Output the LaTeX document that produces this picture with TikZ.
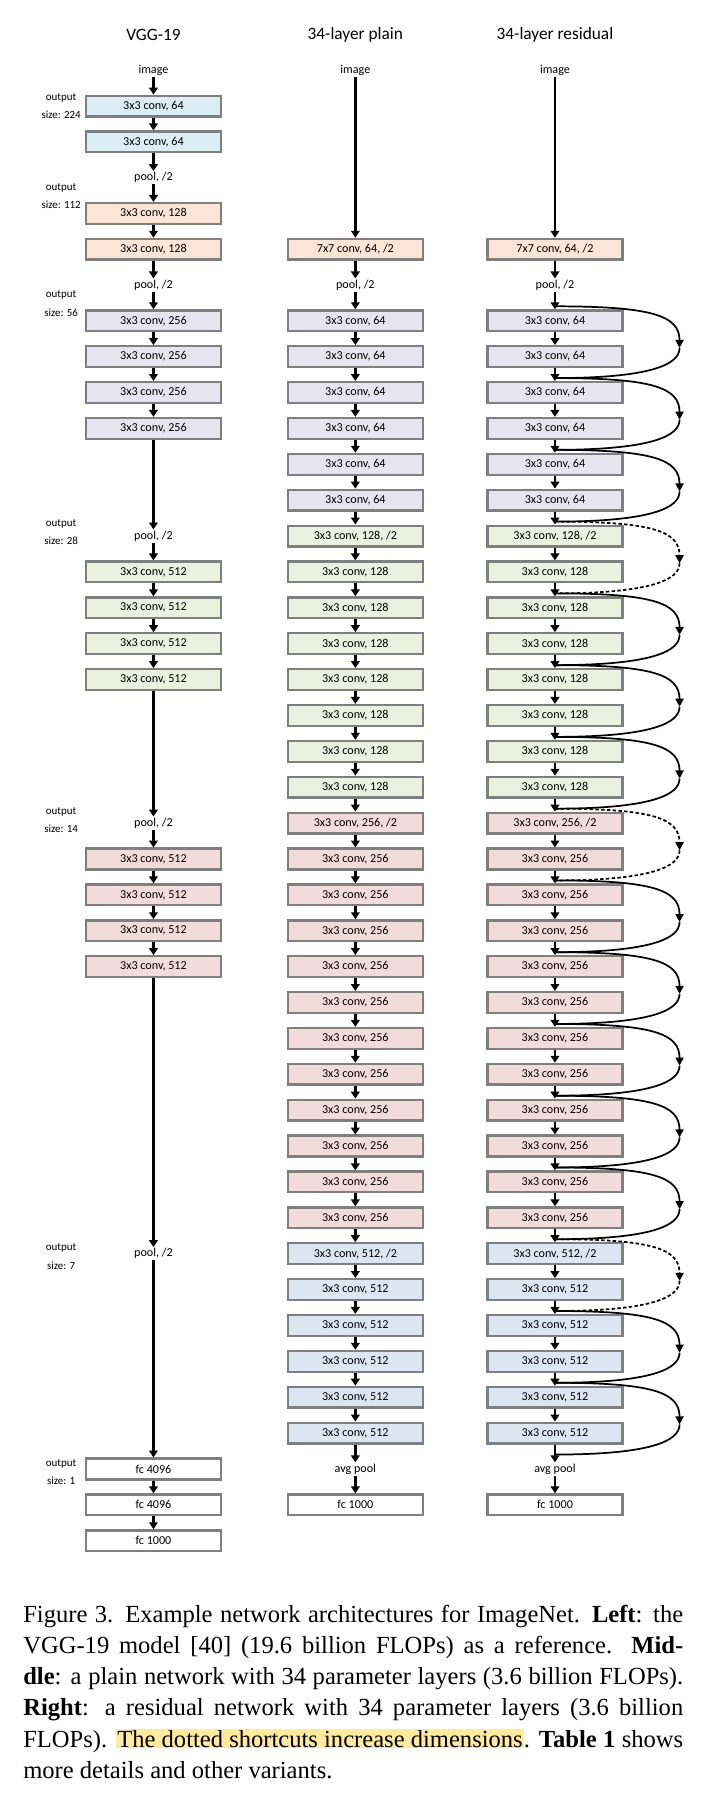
\documentclass[tikz,border=0pt]{standalone}
\usepackage{fontspec}
\setmainfont{Liberation Serif}
\newfontfamily\carl{Carlito}
\usetikzlibrary{arrows.meta}
\definecolor{cblue}{HTML}{DAEEF3}
\definecolor{cpeach}{HTML}{FCE4D6}
\definecolor{clav}{HTML}{E6E4EE}
\definecolor{cgreen}{HTML}{EBF1DE}
\definecolor{cpink}{HTML}{F2DCDB}
\definecolor{cblu}{HTML}{DCE6F2}
\definecolor{cgrey}{HTML}{7F7F7F}
\definecolor{hlc}{HTML}{FFEB99}
\begin{document}
\begin{tikzpicture}[x=1pt,y=-1pt,
  box/.style={draw=cgrey,line width=2pt,minimum width=117pt,minimum height=18pt,inner sep=0pt,font=\carl\fontsize{10.5}{12}\selectfont},
  lbl/.style={inner sep=1pt,font=\carl\fontsize{10.5}{12}\selectfont},
  outl/.style={align=center,font=\carl\fontsize{9.5}{16}\selectfont},
  ttl/.style={font=\carl\fontsize{15}{18}\selectfont},
  arr/.style={line width=2.2pt,-{Triangle[length=6pt,width=7.5pt]}},
  sc/.style={line width=1.5pt},
  sca/.style={line width=1.5pt,-{Triangle[length=7pt,width=7pt]}},
  dot/.style={dash pattern=on 3pt off 2pt}]
\useasboundingbox (0,0) rectangle (612,1574);
\def\Y#1{278+31.1*(#1)}
% titles
\node[ttl] at (133,30) {VGG-19};
\node[ttl] at (308,30) {34-layer plain};
\node[ttl] at (481,30) {34-layer residual};
% output labels
\node[outl] at (53,92) {output\\size: 224};
\node[outl] at (53,170) {output\\size: 112};
\node[outl] at (53,263) {output\\size: 56};
\node[outl] at (53,461) {output\\size: 28};
\node[outl] at (53,711) {output\\size: 14};
\node[outl] at (53,1089) {output\\size: 7};
\node[outl] at (53,1276) {output\\size: 1};
% ---------- VGG ----------
\node[lbl] (vim) at (133,61) {image};
\node[box,fill=cblue] (v1) at (133,92) {3x3 conv, 64};
\node[box,fill=cblue] (v2) at (133,123) {3x3 conv, 64};
\node[lbl] (vp1) at (133,154) {pool, /2};
\node[box,fill=cpeach] (v3) at (133,185) {3x3 conv, 128};
\node[box,fill=cpeach] (v4) at (133,216) {3x3 conv, 128};
\node[lbl] (vp2) at (133,247) {pool, /2};
\foreach \i/\k in {5/0,6/1,7/2,8/3} \node[box,fill=clav] (v\i) at (133,{\Y{\k}}) {3x3 conv, 256};
\node[lbl] (vp3) at (133,{\Y{6}}) {pool, /2};
\foreach \i/\k in {9/7,10/8,11/9,12/10} \node[box,fill=cgreen] (v\i) at (133,{\Y{\k}}) {3x3 conv, 512};
\node[lbl] (vp4) at (133,{\Y{14}}) {pool, /2};
\foreach \i/\k in {13/15,14/16,15/17,16/18} \node[box,fill=cpink] (v\i) at (133,{\Y{\k}}) {3x3 conv, 512};
\node[lbl] (vp5) at (133,{\Y{26}}) {pool, /2};
\node[box,fill=white] (vf1) at (133,{\Y{32}}) {fc 4096};
\node[box,fill=white] (vf2) at (133,{\Y{33}}) {fc 4096};
\node[box,fill=white] (vf3) at (133,{\Y{34}}) {fc 1000};
\foreach \a/\b in {vim/v1,v1/v2,v2/vp1,vp1/v3,v3/v4,v4/vp2,vp2/v5,v5/v6,v6/v7,v7/v8,v8/vp3,vp3/v9,v9/v10,v10/v11,v11/v12,v12/vp4,vp4/v13,v13/v14,v14/v15,v15/v16,v16/vp5,vp5/vf1,vf1/vf2,vf2/vf3}
  \draw[arr] (\a) -- (\b);
% ---------- plain & residual ----------
\foreach \c/\x in {P/308,R/481}{
  \node[lbl] (\c im) at (\x,61) {image};
  \node[box,fill=cpeach] (\c c7) at (\x,216) {7x7 conv, 64, /2};
  \node[lbl] (\c pool) at (\x,247) {pool, /2};
  \foreach \k in {0,...,5} \node[box,fill=clav] (\c\k) at (\x,{\Y{\k}}) {3x3 conv, 64};
  \node[box,fill=cgreen] (\c6) at (\x,{\Y{6}}) {3x3 conv, 128, /2};
  \foreach \k in {7,...,13} \node[box,fill=cgreen] (\c\k) at (\x,{\Y{\k}}) {3x3 conv, 128};
  \node[box,fill=cpink] (\c14) at (\x,{\Y{14}}) {3x3 conv, 256, /2};
  \foreach \k in {15,...,25} \node[box,fill=cpink] (\c\k) at (\x,{\Y{\k}}) {3x3 conv, 256};
  \node[box,fill=cblu] (\c26) at (\x,{\Y{26}}) {3x3 conv, 512, /2};
  \foreach \k in {27,...,31} \node[box,fill=cblu] (\c\k) at (\x,{\Y{\k}}) {3x3 conv, 512};
  \node[lbl] (\c avg) at (\x,{\Y{32}}) {avg pool};
  \node[box,fill=white] (\c fc) at (\x,{\Y{33}}) {fc 1000};
  \draw[arr] (\c im) -- (\c c7);
  \draw[arr] (\c c7) -- (\c pool);
  \draw[arr] (\c pool) -- (\c0);
  \foreach \k in {0,...,30}{\pgfmathtruncatemacro\n{\k+1}\draw[arr] (\c\k) -- (\c\n);}
  \draw[arr] (\c31) -- (\c avg);
  \draw[arr] (\c avg) -- (\c fc);
}
% shortcuts
\foreach \k in {0,2,...,30}{
  \pgfmathsetmacro\ys{\Y{\k}-12.5}
  \pgfmathsetmacro\ye{\Y{\k+2}-12.5}
  \pgfmathsetmacro\ym{(\ys+\ye)/2+5}
  \coordinate (s\k) at (481,\ys);
  \coordinate (m\k) at (589,\ym);
  \coordinate (e\k) at (481,\ye);
  \ifnum\k=6 \def\st{dot}\else\ifnum\k=14 \def\st{dot}\else\ifnum\k=26 \def\st{dot}\else\def\st{}\fi\fi\fi
  \draw[sca,\st] (s\k) .. controls (565,\ys) and (589,\ys+8) .. (m\k);
  \draw[sc,\st] (m\k) .. controls (589,\ye-12) and (565,\ye) .. (e\k);
}
% caption
\node[anchor=north west,inner sep=0pt,text width=572pt,align=justify,
  font=\fontsize{21.3}{27}\selectfont] (cap) at (20,1391) {\hyphenpenalty=10000\emergencystretch=3em\fboxsep=1pt
Figure 3. Example network architectures for ImageNet. \textbf{Left}: the\linebreak
VGG-19 model [40] (19.6 billion FLOPs) as a reference. \textbf{Mid-}\linebreak
\textbf{dle}: a plain network with 34 parameter layers (3.6 billion FLOPs).\linebreak
\textbf{Right}: a residual network with 34 parameter layers (3.6 billion\linebreak
FLOPs). \colorbox{hlc}{The dotted shortcuts increase dimensions}. \textbf{Table 1} shows\linebreak
more details and other variants.};
\end{tikzpicture}
\end{document}
